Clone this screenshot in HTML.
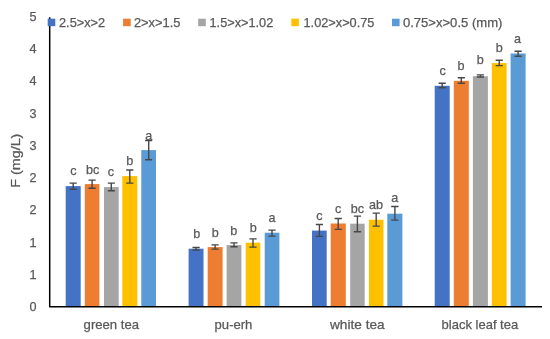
<!DOCTYPE html>
<html lang="en"><head><meta charset="utf-8"><title>F (mg/L) by tea type and particle size</title>
<style>html,body{margin:0;padding:0;background:#fff;}body{width:550px;height:339px;overflow:hidden;}svg{display:block;}text{font-family:"Liberation Sans",sans-serif;fill:#595959;stroke:#595959;stroke-width:0.25px;}</style>
</head><body>
<svg width="550" height="339" viewBox="0 0 550 339">
<rect x="0" y="0" width="550" height="339" fill="#ffffff"/>
<g shape-rendering="auto">
<rect x="65.7" y="186.1" width="15.0" height="120.4" fill="#4472C4"/>
<rect x="84.8" y="184.1" width="14.6" height="122.4" fill="#ED7D31"/>
<rect x="104.0" y="187.1" width="14.7" height="119.4" fill="#A5A5A5"/>
<rect x="122.3" y="176.1" width="15.0" height="130.4" fill="#FFC000"/>
<rect x="141.3" y="150.1" width="14.7" height="156.4" fill="#5B9BD5"/>
<rect x="188.6" y="248.7" width="14.9" height="57.8" fill="#4472C4"/>
<rect x="207.7" y="247.1" width="14.9" height="59.4" fill="#ED7D31"/>
<rect x="226.6" y="245.1" width="14.8" height="61.4" fill="#A5A5A5"/>
<rect x="245.7" y="242.7" width="14.6" height="63.8" fill="#FFC000"/>
<rect x="264.7" y="232.7" width="14.7" height="73.8" fill="#5B9BD5"/>
<rect x="312.0" y="230.6" width="14.7" height="75.9" fill="#4472C4"/>
<rect x="330.7" y="223.5" width="15.1" height="83.0" fill="#ED7D31"/>
<rect x="350.2" y="223.7" width="14.5" height="82.8" fill="#A5A5A5"/>
<rect x="368.9" y="219.7" width="14.6" height="86.8" fill="#FFC000"/>
<rect x="387.3" y="213.7" width="15.1" height="92.8" fill="#5B9BD5"/>
<rect x="434.7" y="85.8" width="15.0" height="220.7" fill="#4472C4"/>
<rect x="453.8" y="80.8" width="15.0" height="225.7" fill="#ED7D31"/>
<rect x="472.9" y="76.2" width="15.0" height="230.3" fill="#A5A5A5"/>
<rect x="491.8" y="63.1" width="14.8" height="243.4" fill="#FFC000"/>
<rect x="510.6" y="53.5" width="15.0" height="253.0" fill="#5B9BD5"/>
</g>
<path d="M49.7 17.2V306.8H542" fill="none" stroke="#000" stroke-width="1.5" stroke-linejoin="round"/>
<g stroke="#474747" stroke-width="1.4" fill="none">
<path d="M69.6 183.1H76.8M73.2 183.1V189.2M69.6 189.2H76.8"/>
<path d="M88.5 180.1H95.7M92.1 180.1V188.2M88.5 188.2H95.7"/>
<path d="M107.8 183.1H114.9M111.3 183.1V190.7M107.8 190.7H114.9"/>
<path d="M126.2 170.0H133.4M129.8 170.0V183.1M126.2 183.1H133.4"/>
<path d="M145.1 140.5H152.2M148.7 140.5V159.8M145.1 159.8H152.2"/>
<path d="M192.5 247.5H199.7M196.1 247.5V250.1M192.5 250.1H199.7"/>
<path d="M211.5 244.9H218.7M215.1 244.9V249.1M211.5 249.1H218.7"/>
<path d="M230.4 242.9H237.6M234.0 242.9V246.7M230.4 246.7H237.6"/>
<path d="M249.4 238.9H256.6M253.0 238.9V247.1M249.4 247.1H256.6"/>
<path d="M268.4 230.1H275.6M272.0 230.1V236.1M268.4 236.1H275.6"/>
<path d="M315.8 224.5H323.0M319.4 224.5V236.4M315.8 236.4H323.0"/>
<path d="M334.6 218.5H341.9M338.2 218.5V229.4M334.6 229.4H341.9"/>
<path d="M353.8 216.1H361.1M357.4 216.1V231.8M353.8 231.8H361.1"/>
<path d="M372.6 213.1H379.8M376.2 213.1V226.1M372.6 226.1H379.8"/>
<path d="M391.2 206.5H398.5M394.9 206.5V220.1M391.2 220.1H398.5"/>
<path d="M438.6 83.2H445.8M442.2 83.2V87.8M438.6 87.8H445.8"/>
<path d="M457.7 77.7H464.9M461.3 77.7V83.3M457.7 83.3H464.9"/>
<path d="M476.8 74.9H484.0M480.4 74.9V77.0M476.8 77.0H484.0"/>
<path d="M495.6 60.2H502.8M499.2 60.2V65.6M495.6 65.6H502.8"/>
<path d="M514.5 51.2H521.7M518.1 51.2V56.2M514.5 56.2H521.7"/>
</g>
<g font-size="12.6" text-anchor="middle">
<text x="73.5" y="175.0">c</text>
<text x="92.7" y="173.8">bc</text>
<text x="110.8" y="176.0">c</text>
<text x="129.7" y="165.2">b</text>
<text x="148.8" y="140.0">a</text>
<text x="196.7" y="237.7">b</text>
<text x="215.3" y="236.7">b</text>
<text x="233.8" y="234.5">b</text>
<text x="253.3" y="232.0">b</text>
<text x="272.0" y="222.2">a</text>
<text x="319.5" y="220.0">c</text>
<text x="338.2" y="212.7">c</text>
<text x="357.5" y="212.7">bc</text>
<text x="376.1" y="208.7">ab</text>
<text x="394.8" y="202.4">a</text>
<text x="442.7" y="74.8">c</text>
<text x="461.1" y="69.5">b</text>
<text x="480.2" y="63.7">b</text>
<text x="499.3" y="52.0">b</text>
<text x="517.4" y="43.0">a</text>
</g>
<g font-size="12.6" text-anchor="end">
<text x="36.6" y="311.00">0</text>
<text x="36.6" y="278.75">1</text>
<text x="36.6" y="246.50">1</text>
<text x="36.6" y="214.25">2</text>
<text x="36.6" y="182.00">2</text>
<text x="36.6" y="149.75">3</text>
<text x="36.6" y="117.50">3</text>
<text x="36.6" y="85.25">4</text>
<text x="36.6" y="53.00">4</text>
<text x="36.6" y="20.75">5</text>
</g>
<text font-size="13.0" text-anchor="middle" transform="translate(19.8 160.7) rotate(-90)" textLength="54.2" lengthAdjust="spacingAndGlyphs">F (mg/L)</text>
<g font-size="12.6" text-anchor="middle">
<text x="111.3" y="329" textLength="55.4" lengthAdjust="spacingAndGlyphs">green tea</text>
<text x="233.5" y="329" textLength="37.8" lengthAdjust="spacingAndGlyphs">pu-erh</text>
<text x="357.3" y="329" textLength="54.6" lengthAdjust="spacingAndGlyphs">white tea</text>
<text x="479.9" y="329" textLength="76.6" lengthAdjust="spacingAndGlyphs">black leaf tea</text>
</g>
<g font-size="12.6">
<rect x="47.7" y="18.7" width="7.6" height="7.5" fill="#4472C4"/>
<text x="59.0" y="26.6" textLength="46.2" lengthAdjust="spacingAndGlyphs">2.5&gt;x&gt;2</text>
<rect x="123.1" y="18.7" width="7.6" height="7.5" fill="#ED7D31"/>
<text x="133.9" y="26.6" textLength="46.6" lengthAdjust="spacingAndGlyphs">2&gt;x&gt;1.5</text>
<rect x="198.2" y="18.7" width="7.6" height="7.5" fill="#A5A5A5"/>
<text x="209.5" y="26.6" textLength="63.8" lengthAdjust="spacingAndGlyphs">1.5&gt;x&gt;1.02</text>
<rect x="291.3" y="18.7" width="7.6" height="7.5" fill="#FFC000"/>
<text x="303.5" y="26.6" textLength="70.9" lengthAdjust="spacingAndGlyphs">1.02&gt;x&gt;0.75</text>
<rect x="392.0" y="18.7" width="7.6" height="7.5" fill="#5B9BD5"/>
<text x="402.9" y="26.6" textLength="99.5" lengthAdjust="spacingAndGlyphs">0.75&gt;x&gt;0.5 (mm)</text>
</g>
</svg>
</body></html>
